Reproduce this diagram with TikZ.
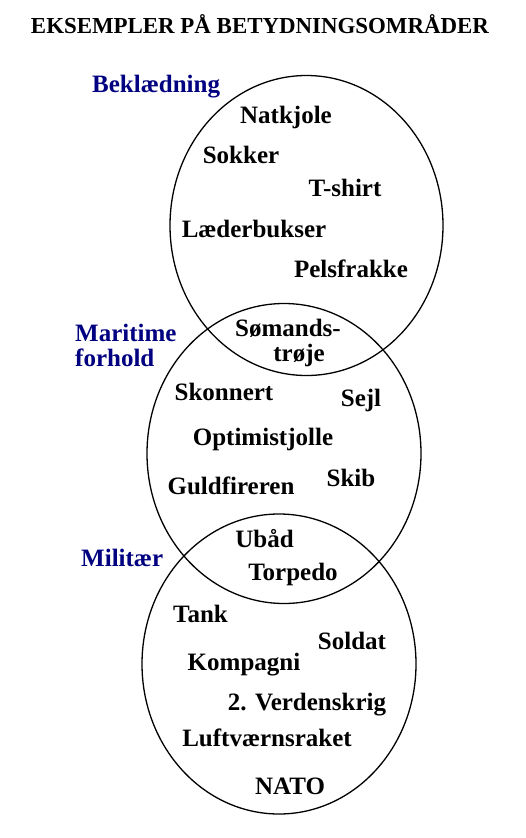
\documentclass[tikz,border=0pt]{standalone}
\usepackage{fontspec}
\setmainfont{Liberation Serif}
\definecolor{navyblue}{RGB}{0,0,128}
\tikzset{
  word/.style={font=\bfseries\fontsize{25}{29}\selectfont, inner sep=0pt, anchor=base},
  cat/.style={word, text=navyblue, anchor=base west},
  ring/.style={draw=black, line width=1.3pt}
}
\begin{document}
\begin{tikzpicture}[x=1pt,y=-1pt]
\useasboundingbox[fill=white] (0,0) rectangle (525,838);
% circles
\draw[ring] (306.5,225.5) ellipse [x radius=136.5pt, y radius=150pt];
\draw[ring] (284,453.5) ellipse [x radius=137pt, y radius=150pt];
\draw[ring] (279,664) ellipse [x radius=137pt, y radius=150pt];
% title
\node[word, font=\bfseries\fontsize{22.9}{26}\selectfont] (title) at (260,33.3) {EKSEMPLER PÅ BETYDNINGSOMRÅDER};
% categories
\node[cat] (bek) at (92,92.7) {Beklædning};
\node[cat] (mar) at (75,341) {Maritime};
\node[cat] (for) at (75,366) {forhold};
\node[cat] (mil) at (81,566.7) {Militær};
% top circle
\node[word] (natkjole) at (286,123.3) {Natkjole};
\node[word] (sokker) at (241,163.3) {Sokker};
\node[word] (tshirt) at (345,196) {T-shirt};
\node[word] (laeder) at (254,237.3) {Læderbukser};
\node[word] (pels) at (351,277.3) {Pelsfrakke};
% overlap 1
\node[word] (somands) at (288,336.7) {Sømands-};
\node[word] (troje) at (299,361.7) {trøje};
% middle circle
\node[word] (skonnert) at (224,400.7) {Skonnert};
\node[word] (sejl) at (361,406) {Sejl};
\node[word] (optimist) at (263,445) {Optimistjolle};
\node[word] (skib) at (351,486.7) {Skib};
\node[word] (guld) at (231,494.3) {Guldfireren};
% overlap 2
\node[word] (ubaad) at (264.5,547.3) {Ubåd};
\node[word] (torpedo) at (293,580.7) {Torpedo};
% bottom circle
\node[word] (tank) at (200.5,622.7) {Tank};
\node[word] (soldat) at (352,649) {Soldat};
\node[word] (kompagni) at (244,670) {Kompagni};
\node[word] (verden) at (307,710.7) {2. Verdenskrig};
\node[word] (luft) at (267,746.7) {Luftværnsraket};
\node[word] (nato) at (290,794) {NATO};
\end{tikzpicture}
\end{document}
